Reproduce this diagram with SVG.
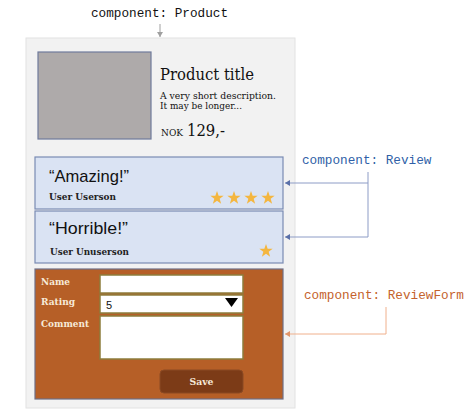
<svg xmlns="http://www.w3.org/2000/svg" width="474" height="413" viewBox="0 0 474 413">
<defs>
<style>
.mono{font-family:"Liberation Mono","DejaVu Sans Mono",monospace;font-size:12.7px}
.ser{font-family:"DejaVu Serif","Liberation Serif",serif}
.sans{font-family:"Liberation Sans",Arial,sans-serif}
.rev{fill:#dae3f3;stroke:#7a8bb3;stroke-width:1.2}
.inp{fill:#ffffff;stroke:#8d7d3c;stroke-width:1.5}
.lbl{fill:#f7ead8;font-size:10px;font-weight:bold}
.star{fill:#f4b63f}
</style>
<marker id="ag" markerWidth="6" markerHeight="6" refX="5" refY="3" orient="auto" markerUnits="userSpaceOnUse"><path d="M0,0 L5,3 L0,6 z" fill="#a0a0a0"/></marker>
<marker id="ab" markerWidth="6" markerHeight="6" refX="5" refY="3" orient="auto" markerUnits="userSpaceOnUse"><path d="M0,0 L5,3 L0,6 z" fill="#5a70a8"/></marker>
<marker id="ao" markerWidth="6" markerHeight="6" refX="5" refY="3" orient="auto" markerUnits="userSpaceOnUse"><path d="M0,0 L5,3 L0,6 z" fill="#e0956a"/></marker>
<path id="st" d="M0,-7 L1.65,-2.27 L6.66,-2.16 L2.67,0.87 L4.11,5.66 L0,2.8 L-4.11,5.66 L-2.67,0.87 L-6.66,-2.16 L-1.65,-2.27 z"/>
</defs>
<rect width="474" height="413" fill="#ffffff"/>

<g id="product">
<rect x="26" y="38" width="269" height="370" fill="#f2f2f2" stroke="#e2e2e2" stroke-width="1"/>
<rect x="38" y="52" width="113" height="87" fill="#aeaaaa" stroke="#6f7b9c" stroke-width="1.2"/>
<text class="ser" x="160" y="80" font-size="16" fill="#111" textLength="94" lengthAdjust="spacingAndGlyphs">Product title</text>
<text class="ser" x="160" y="99" font-size="9.5" fill="#111" textLength="116" lengthAdjust="spacingAndGlyphs">A very short description.</text>
<text class="ser" x="160" y="109" font-size="9.5" fill="#111" textLength="82" lengthAdjust="spacingAndGlyphs">It may be longer...</text>
<text class="ser" x="161" y="136" font-size="9" fill="#111" textLength="22" lengthAdjust="spacingAndGlyphs">NOK</text>
<text class="ser" x="187" y="136" font-size="16" fill="#111" textLength="38" lengthAdjust="spacingAndGlyphs">129,-</text>
</g>

<g id="review1">
<rect class="rev" x="35" y="157" width="248" height="52"/>
<text class="sans" x="49" y="182" font-size="17" fill="#111" textLength="80" lengthAdjust="spacingAndGlyphs">“Amazing!”</text>
<text class="ser" x="49" y="200" font-size="9.5" font-weight="bold" fill="#222" textLength="67" lengthAdjust="spacingAndGlyphs">User Userson</text>
<use href="#st" class="star" x="217" y="198"/>
<use href="#st" class="star" x="234" y="198"/>
<use href="#st" class="star" x="251" y="198"/>
<use href="#st" class="star" x="268" y="198"/>
</g>

<g id="review2">
<rect class="rev" x="35" y="211" width="248" height="52"/>
<text class="sans" x="49" y="234" font-size="17" fill="#111" textLength="79" lengthAdjust="spacingAndGlyphs">“Horrible!”</text>
<text class="ser" x="50" y="255" font-size="9.5" font-weight="bold" fill="#222" textLength="79" lengthAdjust="spacingAndGlyphs">User Unuserson</text>
<use href="#st" class="star" x="266" y="251"/>
</g>

<g id="reviewform">
<rect x="35" y="269" width="248" height="130" fill="#b65f27" stroke="#6f6f86" stroke-width="1.2"/>
<text class="ser lbl" x="41" y="285" textLength="29" lengthAdjust="spacingAndGlyphs">Name</text>
<text class="ser lbl" x="41" y="305" textLength="34" lengthAdjust="spacingAndGlyphs">Rating</text>
<text class="ser lbl" x="41" y="327" textLength="48" lengthAdjust="spacingAndGlyphs">Comment</text>
<rect class="inp" x="100" y="275" width="143" height="18"/>
<rect class="inp" x="100" y="295" width="143" height="18"/>
<text class="sans" x="106" y="309" font-size="11" fill="#111">5</text>
<path d="M225,298 L238,298 L231.5,307 z" fill="#000"/>
<rect class="inp" x="100" y="316" width="143" height="43"/>
<rect x="160" y="370" width="83" height="23" rx="4" fill="#7c3b17" stroke="#8a4a24" stroke-width="1"/>
<text class="ser" x="201.5" y="385" font-size="10" font-weight="bold" fill="#f5e8d8" text-anchor="middle" textLength="24" lengthAdjust="spacingAndGlyphs">Save</text>
</g>

<g id="labels">
<text class="mono" x="91" y="17" fill="#111">component: Product</text>
<text class="mono" x="302" y="164" fill="#2f5fa7">component: Review</text>
<text class="mono" x="304" y="299" fill="#c4622c">component: ReviewForm</text>
</g>

<g id="connectors" fill="none">
<path d="M160,24 L160,37" stroke="#a0a0a0" stroke-width="1" marker-end="url(#ag)"/>
<path d="M368,172 L368,237" stroke="#8d9cc6" stroke-width="1"/>
<path d="M368,183 L285,183" stroke="#8d9cc6" stroke-width="1" marker-end="url(#ab)"/>
<path d="M368,237 L285,237" stroke="#8d9cc6" stroke-width="1" marker-end="url(#ab)"/>
<path d="M386,307 L386,334 L285,334" stroke="#f0b08c" stroke-width="1" marker-end="url(#ao)"/>
</g>
</svg>
